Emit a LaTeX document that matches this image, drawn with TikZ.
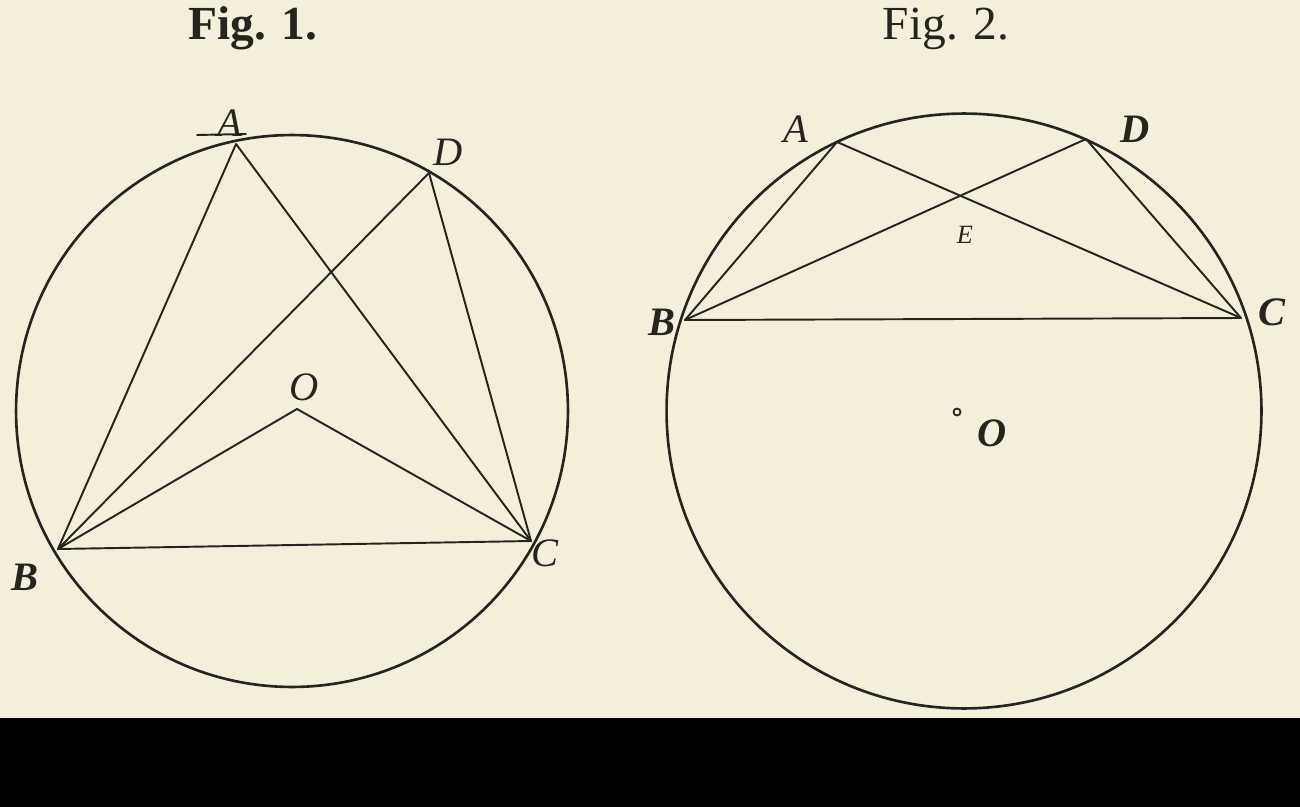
\documentclass[tikz,border=0pt]{standalone}
\usepackage{fontspec}
\setmainfont{Liberation Serif}
\definecolor{paper}{HTML}{F4EFDA}
\definecolor{ink}{HTML}{26241E}

\begin{document}
\begin{tikzpicture}[x=0.02cm,y=-0.02cm,line cap=round,line join=round]
\tikzstyle{rim}=[draw=ink,line width=1.5pt]
\tikzstyle{chord}=[draw=ink,line width=1.1pt]
\tikzstyle{lbl}=[text=ink,inner sep=0pt,font=\fontsize{23}{23}\selectfont\itshape]
\tikzstyle{heavylbl}=[lbl,font=\fontsize{23}{23}\selectfont\bfseries\itshape]
\tikzstyle{title}=[text=ink,inner sep=0pt,anchor=base,font=\fontsize{27}{27}\selectfont]

\fill[paper] (0,0) rectangle (1300,718);
\fill[black] (0,718) rectangle (1300,807);
\useasboundingbox (0,0) rectangle (1300,807);

% Fig. 1
\node[title,font=\fontsize{27}{27}\selectfont\bfseries] (figone) at (253,40) {Fig. 1.};
\coordinate (mid1) at (292,411);
\coordinate (A1) at (236,144);
\coordinate (D1) at (429,173);
\coordinate (B1) at (58,549);
\coordinate (C1) at (531,541);
\coordinate (O1) at (297,409);
\draw[rim] (mid1) circle [radius=5.52cm];

\draw[chord] (A1) -- (B1);
\draw[chord] (A1) -- (C1);
\draw[chord] (D1) -- (B1);
\draw[chord] (D1) -- (C1);
\draw[chord] (B1) -- (O1);
\draw[chord] (O1) -- (C1);
\draw[chord] (B1) -- (C1);
\draw[chord] (197,135) -- (246,134);

\node[lbl] (labA1) at (230,123) {A};
\node[lbl] (labD1) at (448,152) {D};
\node[heavylbl] (labB1) at (25,577) {B};
\node[lbl] (labC1) at (545,553) {C};
\node[lbl] (labO1) at (304,387) {O};

% Fig. 2
\node[title] (figtwo) at (946,40) {Fig. 2.};
\coordinate (mid2) at (964,411);
\coordinate (A2) at (837,142);
\coordinate (D2) at (1086,139);
\coordinate (B2) at (685,320);
\coordinate (C2) at (1241,318);
\draw[rim] (mid2) circle [radius=5.95cm];

\draw[chord] (A2) -- (B2);
\draw[chord] (A2) -- (C2);
\draw[chord] (D2) -- (B2);
\draw[chord] (D2) -- (C2);
\draw[chord] (B2) -- (C2);

\node[lbl] (labA2) at (796,129) {A};
\node[heavylbl] (labD2) at (1135,129) {D};
\node[heavylbl] (labB2) at (662,322) {B};
\node[heavylbl] (labC2) at (1272,312) {C};
\node[lbl,font=\fontsize{15}{15}\selectfont\itshape] (labE2) at (965,235) {E};
\draw[ink,line width=1pt] (957,412) circle [radius=0.07cm];
\node[heavylbl] (labO2) at (992,433) {O};
\end{tikzpicture}
\end{document}
